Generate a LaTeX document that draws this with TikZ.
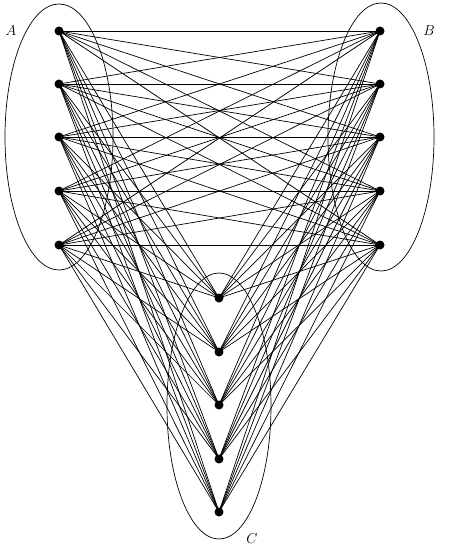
\documentclass[tikz,border=0pt]{standalone}
\begin{document}
\begin{tikzpicture}[x=1pt,y=-1pt,
  vtx/.style={circle,fill=black,inner sep=0pt,minimum size=9pt},
  edge/.style={line width=0.7pt},
  part/.style={draw,line width=0.7pt},
  lbl/.style={font=\Large}]
\useasboundingbox (0,0) rectangle (474,548);
\fill[white] (0,0) rectangle (474,548);
% partition ellipses
\draw[part] (59,137) ellipse [x radius=54, y radius=133];
\draw[part] (381,137) ellipse [x radius=53, y radius=134];
\draw[part] (219,406) ellipse [x radius=52, y radius=133];
% vertices
\foreach \i/\y in {1/31,2/84,3/137,4/191,5/245}{
  \coordinate (a\i) at (59,\y);
  \coordinate (b\i) at (380,\y);
}
\foreach \i/\y in {1/298,2/352,3/405,4/459,5/512}{
  \coordinate (c\i) at (219,\y);
}
% edges
\foreach \i in {1,...,5}{
  \foreach \j in {1,...,5}{
    \draw[edge] (a\i) -- (b\j);
    \draw[edge] (a\i) -- (c\j);
    \draw[edge] (b\i) -- (c\j);
  }
}
\foreach \i in {1,...,5}{
  \node[vtx] (A\i) at (a\i) {};
  \node[vtx] (B\i) at (b\i) {};
  \node[vtx] (C\i) at (c\i) {};
}
\node[lbl] (LA) at (11,31) {$A$};
\node[lbl] (LB) at (429,31) {$B$};
\node[lbl] (LC) at (252,539) {$C$};
\end{tikzpicture}
\end{document}
